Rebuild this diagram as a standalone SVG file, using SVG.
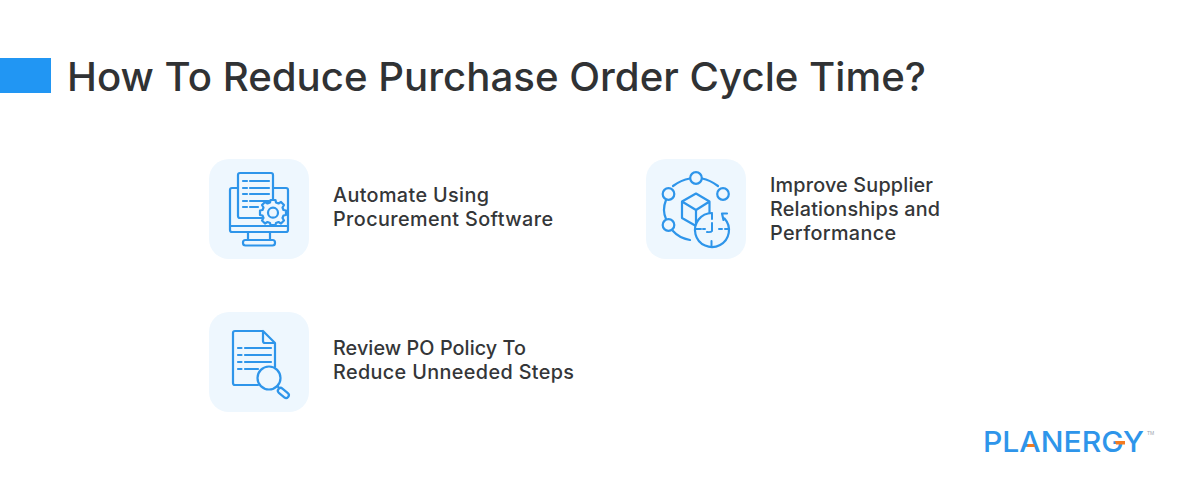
<svg xmlns="http://www.w3.org/2000/svg" width="1200" height="503" viewBox="0 0 1200 503">
<style>
.t{font-family:"Inter","Liberation Sans",sans-serif;font-weight:500;font-size:19.800px;fill:#343638}
.bg{fill:#eef7fe}
.i{fill:none;stroke:#2e95ea;stroke-width:2.200;stroke-linecap:round;stroke-linejoin:round}
.w{fill:#eef7fe}
</style>
<rect width="1200" height="503" fill="#ffffff"/>
<g id="title">
<rect x="0" y="58" width="51" height="35" fill="#2196f3"/>
<text x="67" y="91" textLength="859" lengthAdjust="spacingAndGlyphs" style="font-family:Inter,'Liberation Sans',sans-serif;font-weight:500;font-size:39px;fill:#303234">How To Reduce Purchase Order Cycle Time?</text>
</g>
<g id="node-automate">
<rect class="bg" x="209" y="159" width="100" height="100" rx="20"/>
<g class="i">
<path d="M238 188H232a2 2 0 0 0-2 2V230a2 2 0 0 0 2 2H286a2 2 0 0 0 2-2V190a2 2 0 0 0-2-2H273"/>
<path d="M230 226H288"/>
<path d="M248 232V240M270 232V240"/>
<rect x="243" y="240" width="32" height="5.500" rx="2.500"/>
<rect class="w" x="238" y="173" width="35" height="45" rx="2"/>
<path d="M243 181H247M250 181H269M243 188H247M250 188H269M243 194H247M250 194H269M243 201H247M250 201H269M243 207H247M250 207H258"/>
<path class="w" d="M270.500 202H275.500L276 204.500L278.500 205.500L281 204L284 207L282.500 209.500L283.500 212L286 212.500V217L283.500 217.500L282.500 220L284 222.500L281 225.500L278.500 224L276 225L275.500 227H270.500L270 225L267.500 224L265 225.500L262 222.500L263.500 220L262.500 217.500L260 217V212.500L262.500 212L263.500 209.500L262 207L265 204L267.500 205.500L270 204.500Z" transform="translate(0 -2)"/>
<circle cx="273" cy="212.700" r="5"/>
</g>
<text class="t" x="333" y="202" textLength="156">Automate Using</text>
<text class="t" x="333" y="226" textLength="220">Procurement Software</text>
</g>
<g id="node-supplier">
<rect class="bg" x="646" y="159" width="100" height="100" rx="20"/>
<g class="i">
<path d="M673 186Q681 180 690 178.500M702 178.500Q710 180 718 186"/>
<path d="M666 200Q662 210 666 219"/>
<path d="M673 231Q679 238 690 240"/>
<circle cx="696" cy="178" r="5.800"/>
<circle cx="668.500" cy="194" r="5.800"/>
<circle cx="723" cy="194" r="5.800"/>
<circle cx="668.500" cy="225" r="5.800"/>
<path d="M696 193.500L709.500 201.500V218L696 226L682 218V201.500ZM682 201.500L696 210L709.500 201.500M696 210V226"/>
<circle class="w" cx="711.500" cy="230" r="17" stroke="none"/>
<path d="M712 213A17 17 0 1 0 724.500 218.500"/>
<path d="M722 213.500H727M722 213.500L723.500 220"/>
<path d="M712 214V219M712 223V231Q711 232.500 707 232M711.500 241V246M696 229H701M703 229H705M719 229H722M725 229H728" stroke-width="2"/>
</g>
<text class="t" x="770" y="192" textLength="163">Improve Supplier</text>
<text class="t" x="770" y="216" textLength="170">Relationships and</text>
<text class="t" x="770" y="240" textLength="126">Performance</text>
</g>
<g id="node-review">
<rect class="bg" x="209" y="312" width="100" height="100" rx="20"/>
<g class="i">
<path d="M263 331H235a2 2 0 0 0-2 2V383a2 2 0 0 0 2 2H258M275 367V343L263 331V341a2 2 0 0 0 2 2H275"/>
<path d="M238 348H241.500M245 348H271M238 355H241.500M245 355H271M238 362H241.500M245 362H271M238 369H241.500M245 369H258"/>
<circle cx="269" cy="378" r="11.500"/>
<path d="M277.500 386L279 388"/>
<rect x="277" y="390" width="12.500" height="5.500" rx="2.700" transform="rotate(40 283 393)"/>
</g>
<text class="t" x="333" y="355" textLength="193">Review PO Policy To</text>
<text class="t" x="333" y="379" textLength="241">Reduce Unneeded Steps</text>
</g>
<g id="logo">
<text x="983" y="452" textLength="161" lengthAdjust="spacingAndGlyphs" style="font-family:Inter,'Liberation Sans',sans-serif;font-weight:500;font-size:29px;fill:#2e95ea">PLANERGY</text>
<path d="M1027 447H1035L1034 444H1028Z" fill="#f47b20"/>
<path d="M1115 441H1125V444.500H1116Z" fill="#f47b20"/>
<text x="1147" y="435" style="font-family:'Liberation Sans',sans-serif;font-size:5px;fill:#9aa4ad">TM</text>
</g>
</svg>
